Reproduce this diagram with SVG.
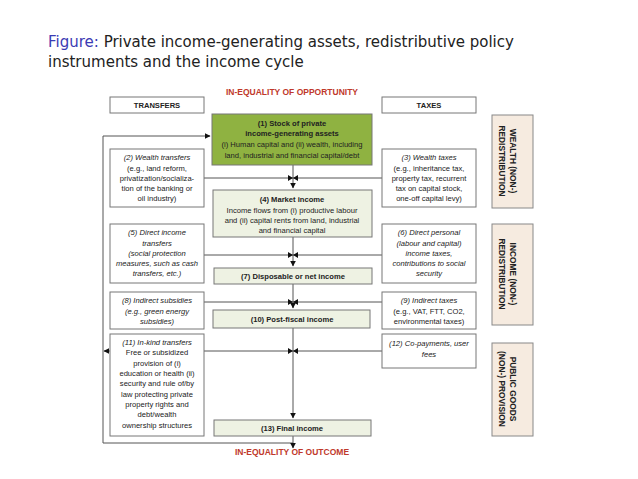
<svg xmlns="http://www.w3.org/2000/svg" width="638" height="479" viewBox="0 0 638 479">
<style>
.b{fill:#fff;stroke:#777;stroke-width:1}
.g{fill:#eef2e3;stroke:#777;stroke-width:1}
.p{fill:#f6ebe0;stroke:#888;stroke-width:1}
text{font-family:"Liberation Sans",Arial,sans-serif;font-size:7.6px;fill:#222;text-anchor:middle}
.h{font-weight:bold}
.i{font-style:italic}
.r{fill:#c0392b;font-weight:bold;font-size:8.5px}
.s{font-weight:bold;font-size:8.4px}
.t{font-size:15px;text-anchor:start;font-family:"DejaVu Sans",sans-serif}
.ln{stroke:#555;stroke-width:1;fill:none}
</style>
<defs>
<marker id="a" viewBox="0 0 10 10" refX="9" refY="5" markerWidth="6" markerHeight="6" orient="auto"><path d="M0,0L10,5L0,10z" fill="#111"/></marker>
<g id="bt"><path d="M-5,-3L0,0L-5,3z M5,-3L0,0L5,3z" fill="#111"/></g>
</defs>
<rect width="638" height="479" fill="#fff"/>
<text class="t" x="48" y="47"><tspan fill="#3b3bb3">Figure:</tspan> Private income-generating assets, redistributive policy</text>
<text class="t" x="48" y="67">instruments and the income cycle</text>

<text class="r" x="292" y="95">IN-EQUALITY OF OPPORTUNITY</text>
<text class="r" x="292" y="455">IN-EQUALITY OF OUTCOME</text>

<g id="connectors">
<path class="ln" d="M293,165V188" marker-end="url(#a)"/>
<path class="ln" d="M293,237V266" marker-end="url(#a)"/>
<path class="ln" d="M293,284V308" marker-end="url(#a)"/>
<path class="ln" d="M293,328V418" marker-end="url(#a)"/>
<path class="ln" d="M204,178H382 M204,255H382 M204,302H382 M110,351H382"/>
<path class="ln" d="M110,351H104" marker-end="url(#a)"/>
<path class="ln" d="M293,436V443H103V136H210" marker-end="url(#a)"/>
<path class="ln" d="M293,443V448" marker-end="url(#a)"/>
<use href="#bt" x="293" y="178"/><use href="#bt" x="293" y="255"/><use href="#bt" x="293" y="302"/><use href="#bt" x="293" y="351"/>
</g>

<g id="transfers"><rect class="b" x="110" y="97" width="94" height="16"/><text class="h" x="157" y="108">TRANSFERS</text></g>
<g id="taxes"><rect class="b" x="382" y="97" width="94" height="16"/><text class="h" x="429" y="108">TAXES</text></g>

<g id="n1"><rect x="212" y="114" width="160" height="51" fill="#8fb241" stroke="#777"/>
<text class="h" x="292" y="126">(1) Stock of private</text><text class="h" x="292" y="136">income-generating assets</text>
<text x="292" y="147">(i) Human capital and (ii) wealth, including</text><text x="292" y="158">land, industrial and financial capital/debt</text></g>

<g id="n2"><rect class="b" x="110" y="149" width="94" height="58"/>
<text class="i" x="157" y="160">(2) Wealth transfers</text><text x="157" y="171">(e.g., land reform,</text><text x="157" y="181">privatization/socializa-</text><text x="157" y="191">tion of the banking or</text><text x="157" y="201">oil industry)</text></g>

<g id="n3"><rect class="b" x="382" y="149" width="94" height="58"/>
<text class="i" x="429" y="160">(3) Wealth taxes</text><text x="429" y="171">(e.g., inheritance tax,</text><text x="429" y="181">property tax, recurrent</text><text x="429" y="191">tax on capital stock,</text><text x="429" y="201">one-off capital levy)</text></g>

<g id="n4"><rect class="g" x="213" y="190" width="159" height="47"/>
<text class="h" x="292" y="202">(4) Market income</text><text x="292" y="213">Income flows from (i) productive labour</text><text x="292" y="223">and (ii) capital rents from land, industrial</text><text x="292" y="233">and financial capital</text></g>

<g id="n5"><rect class="b" x="110" y="224" width="94" height="59"/>
<text class="i" x="157" y="235">(5) Direct  income</text><text class="i" x="157" y="246">transfers</text><text class="i" x="157" y="256">(social protection</text><text class="i" x="157" y="266">measures, such as cash</text><text class="i" x="157" y="276">transfers, etc.)</text></g>

<g id="n6"><rect class="b" x="382" y="224" width="94" height="59"/>
<text class="i" x="429" y="235">(6) Direct personal</text><text class="i" x="429" y="246">(labour and capital)</text><text class="i" x="429" y="256">income taxes,</text><text class="i" x="429" y="266">contributions to social</text><text class="i" x="429" y="276">security</text></g>

<g id="n7"><rect class="g" x="214" y="268" width="158" height="16"/><text class="h" x="293" y="279">(7) Disposable or net income</text></g>

<g id="n8"><rect class="b" x="110" y="292" width="94" height="37"/>
<text class="i" x="157" y="303">(8) Indirect subsidies</text><text class="i" x="157" y="314">(e.g., green energy</text><text class="i" x="157" y="324">subsidies)</text></g>

<g id="n9"><rect class="b" x="382" y="292" width="94" height="37"/>
<text class="i" x="429" y="303">(9) Indirect taxes</text><text x="429" y="314">(e.g., VAT, FTT, CO2,</text><text x="429" y="324">environmental  taxes)</text></g>

<g id="n10"><rect class="g" x="213" y="310" width="157" height="18"/><text class="h" x="292" y="322">(10) Post-fiscal income</text></g>

<g id="n11"><rect class="b" x="110" y="334" width="94" height="102"/>
<text class="i" x="157" y="345">(11) In-kind transfers</text><text x="157" y="355">Free or subsidized</text><text x="157" y="366">provision of (i)</text><text x="157" y="376">education or health (ii)</text><text x="157" y="386">security and rule of/by</text><text x="157" y="397">law protecting private</text><text x="157" y="407">property rights and</text><text x="157" y="417">debt/wealth</text><text x="157" y="428">ownership structures</text></g>

<g id="n12"><rect class="b" x="382" y="334" width="94" height="34"/>
<text class="i" x="429" y="346">(12) Co-payments, user</text><text class="i" x="429" y="357">fees</text></g>

<g id="n13"><rect class="g" x="214" y="420" width="157" height="16"/><text class="h" x="292" y="431">(13) Final income</text></g>

<g id="p1"><rect class="p" x="492" y="115" width="41" height="93"/>
<text class="s" transform="translate(510,161) rotate(90)">WEALTH (NON-)</text><text class="s" transform="translate(499,161) rotate(90)">REDISTRIBUTION</text></g>
<g id="p2"><rect class="p" x="492" y="224" width="41" height="101"/>
<text class="s" transform="translate(510,274) rotate(90)">INCOME (NON-)</text><text class="s" transform="translate(499,274) rotate(90)">REDISTRIBUTION</text></g>
<g id="p3"><rect class="p" x="492" y="343" width="41" height="93"/>
<text class="s" transform="translate(510,389) rotate(90)">PUBLIC GOODS</text><text class="s" transform="translate(499,389) rotate(90)">(NON-) PROVISION</text></g>
</svg>
